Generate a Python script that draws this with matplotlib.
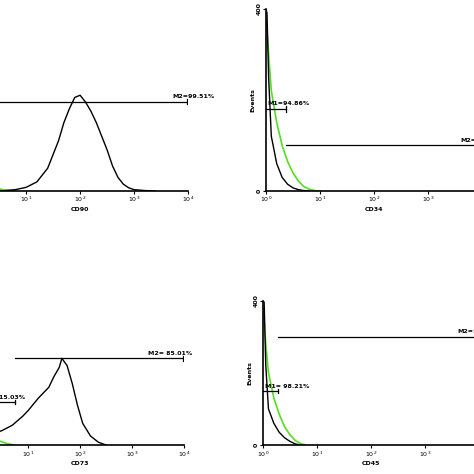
import numpy as np
import matplotlib
matplotlib.use("Agg")
from matplotlib import pyplot as plt

# log10 positions and event counts
cd90_x = [0.5, 0.8, 1.0, 1.2, 1.4, 1.6, 1.7, 1.8, 1.9, 2.0, 2.1, 2.2, 2.3, 2.4, 2.5, 2.6, 2.7, 2.8, 2.9, 3.0, 3.2, 3.4]
cd90_y = [0, 3, 8, 20, 50, 110, 150, 180, 205, 210, 195, 175, 150, 120, 90, 55, 30, 15, 7, 3, 1, 0]
cd90_iso_x = [0.0, 0.2, 0.4, 0.6, 0.8]
cd90_iso_y = [40, 20, 8, 2, 0]

cd73_x = [0.3, 0.5, 0.7, 0.9, 1.0, 1.2, 1.4, 1.5, 1.6, 1.65, 1.75, 1.85, 1.95, 2.05, 2.2, 2.35, 2.5]
cd73_y = [30, 40, 55, 80, 95, 130, 160, 190, 215, 240, 220, 170, 110, 60, 25, 8, 0]
cd73_iso_x = [0.0, 0.2, 0.4, 0.6, 0.75]
cd73_iso_y = [45, 28, 14, 4, 0]

cd34_x = [0.0, 0.02, 0.05, 0.1, 0.2, 0.3, 0.4, 0.5, 0.6, 0.7, 0.8]
cd34_y = [400, 390, 250, 120, 60, 30, 15, 7, 3, 1, 0]
cd34_iso_x = [0.0, 0.05, 0.1, 0.2, 0.3, 0.4, 0.5, 0.6, 0.7, 0.8, 0.9, 1.0]
cd34_iso_y = [380, 300, 220, 150, 100, 65, 40, 22, 10, 4, 1, 0]

cd45_x = [0.0, 0.02, 0.05, 0.1, 0.2, 0.3, 0.4, 0.5, 0.6, 0.7]
cd45_y = [400, 395, 220, 100, 60, 35, 20, 10, 3, 0]
cd45_iso_x = [0.0, 0.05, 0.1, 0.2, 0.3, 0.4, 0.5, 0.6, 0.7, 0.8]
cd45_iso_y = [380, 280, 200, 130, 85, 50, 28, 12, 4, 0]

GREEN = "#55dd22"

fig = plt.figure(figsize=(4.74, 4.74), dpi=100)


def panel(rect, x, y, ix, iy, xlabel, ylab, markers):
    ax = fig.add_axes(rect)
    ax.plot(ix, iy, color=GREEN, lw=1.2)
    ax.plot(x, y, color="black", lw=1.0)
    for (x0, x1, yy, txt, tx, ha) in markers:
        ax.plot([x0, x1], [yy, yy], color="black", lw=0.9)
        ax.plot([x1, x1], [yy - 6, yy + 6], color="black", lw=0.9)
        ax.text(tx, yy + 6, txt, fontsize=4.5, fontweight="bold", ha=ha, va="bottom")
    ax.set_xlim(0, 4)
    ax.set_ylim(0, 400)
    ax.set_xticks([0, 1, 2, 3, 4])
    ax.set_xticklabels(["$10^0$", "$10^1$", "$10^2$", "$10^3$", "$10^4$"], fontsize=4.5)
    ax.set_yticks([0, 400])
    ax.set_yticklabels(["0", "400"], fontsize=4.5, rotation=90, va="center", fontweight="bold")
    ax.set_xlabel(xlabel, fontsize=4.5, labelpad=2, fontweight="bold")
    if ylab:
        ax.set_ylabel("Events", fontsize=4.5, labelpad=1, fontweight="bold")
    for s in ["top", "right"]:
        ax.spines[s].set_visible(False)
    ax.spines["left"].set_linewidth(1.2)
    ax.spines["bottom"].set_linewidth(1.2)
    ax.tick_params(length=2, width=0.8, pad=1)
    return ax


panel([-0.059, 0.597, 0.456, 0.385], cd90_x, cd90_y, cd90_iso_x, cd90_iso_y, "CD90", False,
      [(0.0, 0.4, 120, "M1=0.49%", 0.4, "right"), (0.4, 3.98, 196, "M2=99.51%", 3.7, "left")])
panel([0.561, 0.597, 0.456, 0.385], cd34_x, cd34_y, cd34_iso_x, cd34_iso_y, "CD34", True,
      [(0.0, 0.38, 180, "M1=94.86%", 0.02, "left"), (0.38, 3.98, 100, "M2=5.14%", 3.6, "left")])
panel([-0.051, 0.061, 0.44, 0.305], cd73_x, cd73_y, cd73_iso_x, cd73_iso_y, "CD73", False,
      [(0.0, 0.75, 120, "M1=15.03%", 0.95, "right"), (0.75, 3.98, 240, "M2= 85.01%", 3.3, "left")])
panel([0.555, 0.061, 0.456, 0.305], cd45_x, cd45_y, cd45_iso_x, cd45_iso_y, "CD45", True,
      [(0.0, 0.28, 150, "M1= 98.21%", 0.03, "left"), (0.28, 3.98, 300, "M2=1.79%", 3.6, "left")])

fig.savefig("out.png", dpi=100)
